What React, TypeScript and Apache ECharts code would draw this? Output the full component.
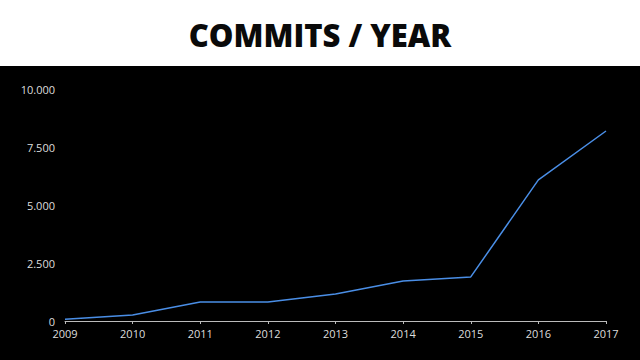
import React, { useEffect, useRef } from "react";
import * as echarts from "echarts";

const years = ["2009", "2010", "2011", "2012", "2013", "2014", "2015", "2016", "2017"];
const commits = [80, 260, 820, 820, 1160, 1720, 1900, 6080, 8190];
const titleText = "COMMITS / YEAR";

export default function App() {
  const ref = useRef<HTMLDivElement>(null);
  useEffect(() => {
    const chart = echarts.init(ref.current!, null, { renderer: "svg" });
    chart.setOption({
      animation: false,
      backgroundColor: "#ffffff",
      title: {
        text: titleText,
        left: "center",
        top: 14,
        textStyle: {
          fontFamily: "Open Sans",
          fontWeight: 800,
          fontSize: 31,
          color: "#0a0a0a",
        },
      },
      graphic: [
        {
          type: "rect",
          z: -10,
          shape: { x: 0, y: 66, width: 640, height: 294 },
          style: { fill: "#000000" },
        },
      ],
      grid: { left: 65, right: 34, top: 89, bottom: 39 },
      xAxis: {
        type: "category",
        data: years,
        boundaryGap: false,
        axisLine: { lineStyle: { color: "#bbbbbb", width: 1 } },
        axisTick: { show: true, length: 3, lineStyle: { color: "#bbbbbb" } },
        axisLabel: { color: "#dddddd", fontSize: 11, fontFamily: "Open Sans", margin: 7 },
      },
      yAxis: {
        type: "value",
        min: 0,
        max: 10000,
        interval: 2500,
        splitLine: { show: false },
        axisLine: { show: false },
        axisTick: { show: false },
        axisLabel: {
          color: "#dddddd",
          fontSize: 11,
          fontFamily: "Open Sans",
          margin: 10,
          formatter: (v: number) => (v === 0 ? "0" : v.toLocaleString("de-DE")),
        },
      },
      series: [
        {
          type: "line",
          data: commits,
          symbol: "none",
          lineStyle: { color: "#4a8ee6", width: 1.5 },
        },
      ],
    });
    return () => chart.dispose();
  }, []);
  return (
    <div
      ref={ref}
      style={{ position: "absolute", left: 0, top: 0, width: 640, height: 360 }}
    />
  );
}
